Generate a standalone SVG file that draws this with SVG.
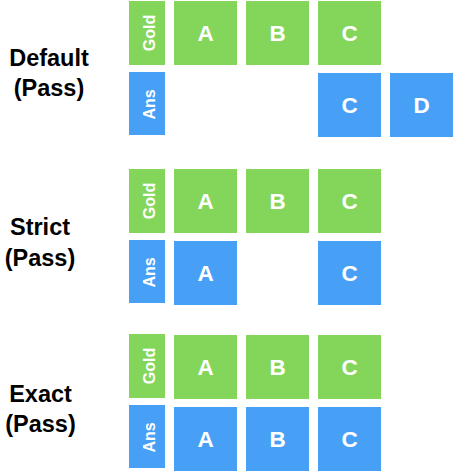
<svg xmlns="http://www.w3.org/2000/svg" width="454" height="472" viewBox="0 0 454 472">
<style>
.g{fill:#84D65A}
.b{fill:#48A0F6}
.t{font-family:"Liberation Sans",Arial,sans-serif;font-weight:bold;fill:#fff;text-anchor:middle}
.L{font-size:22.5px}
.s{font-size:16px}
.h{font-family:"Liberation Sans",Arial,sans-serif;font-weight:bold;fill:#000;text-anchor:middle;font-size:23.5px}
</style>
<rect width="454" height="472" fill="#fff"/>
<g id="default">
<text class="h" x="49" y="65.5">Default</text>
<text class="h" x="49" y="96">(Pass)</text>
<g id="d-gold"><rect class="g" x="129" y="1" width="36" height="64"/><text class="t s" transform="translate(154.5,33) rotate(-90)">Gold</text></g>
<g id="d-ga"><rect class="g" x="174" y="1" width="63" height="64"/><text class="t L" x="205.5" y="41">A</text></g>
<g id="d-gb"><rect class="g" x="246" y="1" width="63" height="64"/><text class="t L" x="277.5" y="41">B</text></g>
<g id="d-gc"><rect class="g" x="318" y="1" width="63" height="64"/><text class="t L" x="349.5" y="41">C</text></g>
<g id="d-ans"><rect class="b" x="129" y="72" width="36" height="63"/><text class="t s" transform="translate(154.5,104.5) rotate(-90)">Ans</text></g>
<g id="d-ac"><rect class="b" x="318" y="73" width="63" height="64"/><text class="t L" x="349.5" y="113">C</text></g>
<g id="d-ad"><rect class="b" x="390" y="73" width="63" height="64"/><text class="t L" x="421.5" y="113">D</text></g>
</g>
<g id="strict">
<text class="h" x="40" y="235">Strict</text>
<text class="h" x="40" y="265.5">(Pass)</text>
<g id="s-gold"><rect class="g" x="129" y="169" width="36" height="64"/><text class="t s" transform="translate(154.5,201) rotate(-90)">Gold</text></g>
<g id="s-ga"><rect class="g" x="174" y="169" width="63" height="64"/><text class="t L" x="205.5" y="209">A</text></g>
<g id="s-gb"><rect class="g" x="246" y="169" width="63" height="64"/><text class="t L" x="277.5" y="209">B</text></g>
<g id="s-gc"><rect class="g" x="318" y="169" width="63" height="64"/><text class="t L" x="349.5" y="209">C</text></g>
<g id="s-ans"><rect class="b" x="129" y="240" width="36" height="63"/><text class="t s" transform="translate(154.5,272.5) rotate(-90)">Ans</text></g>
<g id="s-aa"><rect class="b" x="174" y="241" width="63" height="64"/><text class="t L" x="205.5" y="281">A</text></g>
<g id="s-ac"><rect class="b" x="318" y="241" width="63" height="64"/><text class="t L" x="349.5" y="281">C</text></g>
</g>
<g id="exact">
<text class="h" x="40.5" y="401.5">Exact</text>
<text class="h" x="40.5" y="431.5">(Pass)</text>
<g id="e-gold"><rect class="g" x="129" y="334" width="36" height="64"/><text class="t s" transform="translate(154.5,366) rotate(-90)">Gold</text></g>
<g id="e-ga"><rect class="g" x="174" y="335" width="63" height="64"/><text class="t L" x="205.5" y="375">A</text></g>
<g id="e-gb"><rect class="g" x="246" y="335" width="63" height="64"/><text class="t L" x="277.5" y="375">B</text></g>
<g id="e-gc"><rect class="g" x="318" y="335" width="63" height="64"/><text class="t L" x="349.5" y="375">C</text></g>
<g id="e-ans"><rect class="b" x="129" y="405" width="36" height="63"/><text class="t s" transform="translate(154.5,437.5) rotate(-90)">Ans</text></g>
<g id="e-aa"><rect class="b" x="174" y="407" width="63" height="64"/><text class="t L" x="205.5" y="447">A</text></g>
<g id="e-ab"><rect class="b" x="246" y="407" width="63" height="64"/><text class="t L" x="277.5" y="447">B</text></g>
<g id="e-ac"><rect class="b" x="318" y="407" width="63" height="64"/><text class="t L" x="349.5" y="447">C</text></g>
</g>
</svg>
